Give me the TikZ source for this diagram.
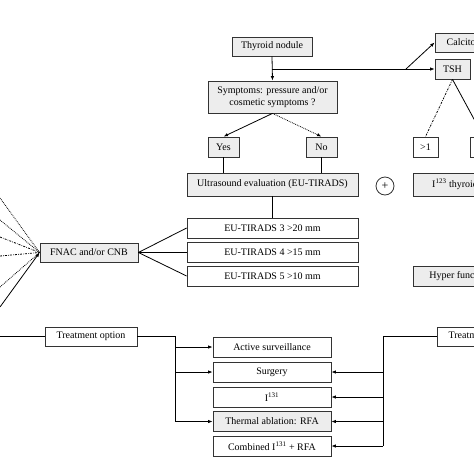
\documentclass[tikz,border=0pt]{standalone}
\usepackage{fontspec}
\setmainfont{Liberation Serif}
\usepackage{xcolor}
\usetikzlibrary{arrows.meta,calc}

\begin{document}
\begin{tikzpicture}[x=1pt,y=-1pt,>={Latex[length=4.5pt,width=3.5pt]},
  line width=0.8pt,
  box/.style={draw=black!80,fill=white,inner sep=1pt,align=center,
    font=\fontsize{10pt}{11.5pt}\selectfont},
  gbox/.style={box,fill=black!7},
  dotline/.style={densely dotted},
  dashline/.style={dash pattern=on 2pt off 1.2pt on 0.6pt off 1.2pt}]
  \useasboundingbox (0,0) rectangle (474,474);
  \clip (0,0) rectangle (474,474);
  \node[gbox,minimum width=80pt,minimum height=19pt] (thyroid) at (272,46.5) {Thyroid nodule};
  \node[gbox,minimum width=129pt,minimum height=32pt] (symp) at (272.5,97)
    {Symptoms: pressure and/or\\cosmetic symptoms ?};
  \node[gbox,minimum width=31pt,minimum height=20pt] (yes) at (223.5,147) {Yes};
  \node[gbox,minimum width=31pt,minimum height=20pt] (no) at (321.5,147) {No};
  \node[gbox,minimum width=171pt,minimum height=23pt] (us) at (272.5,184.5)
    {Ultrasound evaluation (EU-TIRADS)};
  \node[draw=black!80,circle,minimum size=18pt,inner sep=0pt,font=\large] (plus) at (385,186) {+};
  \node[box,minimum width=171pt,minimum height=20pt] (eu3) at (272.5,228) {EU-TIRADS 3 >20 mm};
  \node[box,minimum width=171pt,minimum height=20pt] (eu4) at (272.5,252.5) {EU-TIRADS 4 >15 mm};
  \node[box,minimum width=171pt,minimum height=20pt] (eu5) at (272.5,276) {EU-TIRADS 5 >10 mm};
  \node[gbox,minimum width=98pt,minimum height=19pt] (fnac) at (89,252.5) {FNAC and/or CNB};
  \node[gbox,minimum width=65pt,minimum height=19pt] (calc) at (467.5,42.5) {Calcitonin};
  \node[gbox,minimum width=35pt,minimum height=20pt] (tsh) at (452.5,69) {TSH};
  \node[box,minimum width=25pt,minimum height=20pt] (high) at (425.5,147) {>1};
  \node[box,minimum width=27pt,minimum height=20pt] (low) at (483.5,147) {};
  \node[gbox,minimum width=136pt,minimum height=23pt] (scint) at (481,184.5)
    {I\textsuperscript{123} thyroid scintigraphy};
  \node[gbox,minimum width=136pt,minimum height=20pt] (hyper) at (481,276)
    {Hyper functioning nodule};
  \node[box,minimum width=92pt,minimum height=19pt] (tleft) at (91,336.5) {Treatment option};
  \node[box,minimum width=92pt,minimum height=19pt] (tright) at (483,336.5) {Treatment option};
  \node[box,minimum width=118pt,minimum height=20pt] (active) at (272,347) {Active surveillance};
  \node[box,minimum width=118pt,minimum height=20pt] (surg) at (272,372) {Surgery};
  \node[box,minimum width=118pt,minimum height=20pt] (iodine) at (272,397) {I\textsuperscript{131}};
  \node[gbox,minimum width=118pt,minimum height=20pt] (rfa) at (272,421.5) {Thermal ablation: RFA};
  \node[box,minimum width=118pt,minimum height=20pt] (comb) at (272,446)
    {Combined I\textsuperscript{131} + RFA};

  \coordinate (split) at (406,69);
  \coordinate (lbus) at (175,336.5);
  \coordinate (rbus) at (383,336.5);
  \coordinate (lin) at (0,336.5);

  \draw[->] (thyroid.south) -- (symp.north);
  \draw[->] (thyroid.south |- tsh.west) -- (tsh.west);
  \draw[->] (split) -- (calc.west);
  \draw[->] (symp.south) -- (yes.north);
  \draw[->,dotline] (symp.south) -- (no.north);
  \draw[dashline] (tsh.south) -- (high.north);
  \draw (tsh.south) -- (low.north);
  \draw (yes.south) -- (yes.south |- us.north);
  \draw (no.south) -- (no.south |- us.north);
  \draw (us.south) -- (eu3.north);
  \draw (fnac.east) -- (eu3.west);
  \draw (fnac.east) -- (eu4.west);
  \draw (fnac.east) -- (eu5.west);
  \foreach \i/\y/\s in {1/198/dotline,2/220/dotline,3/237/dashline,
                        4/256/dashline,5/287/dotline}{
    \coordinate (in\i) at (0,\y);
    \draw[\s] (in\i) -- (fnac.west);
  }
  \coordinate (in6) at (0,307);
  \draw[->] (in6) -- (fnac.west);

  \draw (lin) -- (tleft.west);
  \draw (tleft.east) -- (lbus) -- (lbus |- rfa.west);
  \draw[->] (lbus |- active.west) -- (active.west);
  \draw[->] (lbus |- surg.west) -- (surg.west);
  \draw[->] (lbus |- rfa.west) -- (rfa.west);
  \draw (tright.west) -- (rbus) -- (rbus |- comb.east);
  \draw[->] (rbus |- surg.east) -- (surg.east);
  \draw[->] (rbus |- iodine.east) -- (iodine.east);
  \draw[->] (rbus |- rfa.east) -- (rfa.east);
  \draw[->] (rbus |- comb.east) -- (comb.east);
\end{tikzpicture}
\end{document}
